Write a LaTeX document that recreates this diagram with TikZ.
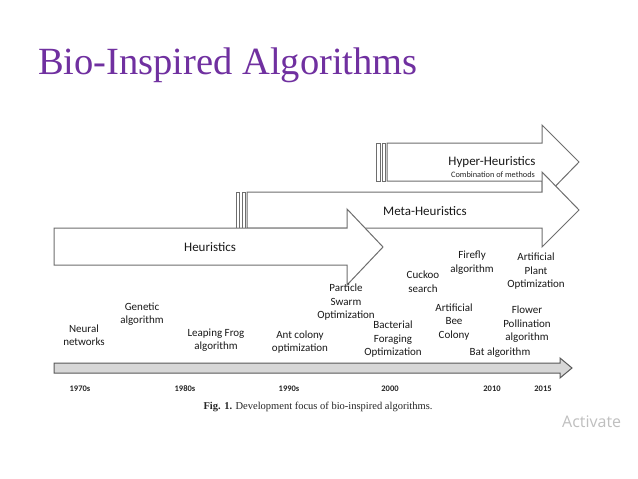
\documentclass[tikz,border=0pt]{standalone}
\usepackage{fontspec}
\setmainfont{Liberation Serif}
\newfontfamily\labelfont{Carlito}
\newfontfamily\markfont{Open Sans}
\definecolor{titlepurple}{RGB}{112,48,160}
\definecolor{edgegray}{RGB}{110,110,110}
\definecolor{bargray}{RGB}{215,215,215}

\begin{document}
\begin{tikzpicture}[x=1pt, y=-1pt,
  arrowbody/.style={draw=edgegray, fill=white, line width=1pt, line join=miter},
  algo/.style={font=\labelfont\fontsize{11}{13.5}\selectfont, align=center, text=black!90, inner sep=0pt},
  year/.style={font=\labelfont\bfseries\fontsize{8.5}{9}\selectfont, text=black!85, inner sep=0pt},
  band/.style={font=\labelfont\fontsize{13}{15}\selectfont, text=black!90, inner sep=0pt}]
\useasboundingbox[fill=white] (0,0) rectangle (638,479);

% title
\node[anchor=base west, inner sep=0pt, text=titlepurple, font=\fontsize{38.5}{44}\selectfont] (title) at (38,74) {Bio-Inspired Algorithms};

% hyper-heuristics band
\draw[arrowbody] (387,143) -- (542,143) -- (542,125) -- (579,162) -- (542,200) -- (542,181) -- (387,181) -- cycle;
\draw[arrowbody] (376,143) rectangle (380,181);
\draw[arrowbody] (382,143) rectangle (385,181);
\node[band] (hyper) at (492,162) {Hyper-Heuristics};
\node[font=\labelfont\fontsize{8.3}{9}\selectfont, text=black!85, inner sep=0pt] (combi) at (493,175) {Combination of methods};

% meta-heuristics band
\draw[arrowbody] (247,192) -- (542,192) -- (542,172) -- (579,210) -- (542,247) -- (542,228) -- (247,228) -- cycle;
\draw[arrowbody] (236,192) rectangle (239,228);
\draw[arrowbody] (242,192) rectangle (245,228);
\node[band] (meta) at (425,211) {Meta-Heuristics};

% heuristics band
\draw[arrowbody] (54,228) -- (347,228) -- (347,209) -- (383,247) -- (347,285) -- (347,265) -- (54,265) -- cycle;
\node[band] (heur) at (210,247) {Heuristics};

% algorithms
\node[algo] (neural) at (84,335) {Neural\\networks};
\node[algo] (genetic) at (142,314) {Genetic\\algorithm};
\node[algo] (frog) at (216,340) {Leaping Frog\\algorithm};
\node[algo] (ant) at (300,342) {Ant colony\\optimization};
\node[algo] (pso) at (346,302.5) {Particle\\Swarm\\Optimization};
\node[algo] (bfo) at (393,339.5) {Bacterial\\Foraging\\Optimization};
\node[algo] (cuckoo) at (423,281.5) {Cuckoo\\search};
\node[algo] (firefly) at (472,262.5) {Firefly\\algorithm};
\node[algo] (plant) at (536,271.5) {Artificial\\Plant\\Optimization};
\node[algo] (bee) at (454,322) {Artificial\\Bee\\Colony};
\node[algo] (flower) at (527,324.5) {Flower\\Pollination\\algorithm};
\node[algo] (bat) at (500,353) {Bat algorithm};

% time line
\draw[draw=black!65, fill=bargray, line width=1pt] (54,363) -- (560,363) -- (560,358) -- (572,368) -- (560,378) -- (560,373) -- (54,373) -- cycle;
\node[year] (y70) at (80,389) {1970s};
\node[year] (y80) at (185,389) {1980s};
\node[year] (y90) at (289,389) {1990s};
\node[year] (y00) at (390,389) {2000};
\node[year] (y10) at (492,389) {2010};
\node[year] (y15) at (543,389) {2015};

% caption
\node[inner sep=0pt, text=black!85, font=\fontsize{10.5}{12}\selectfont] (caption) at (318,407) {\textbf{Fig. 1.} Development focus of bio-inspired algorithms.};
\node[anchor=west, inner sep=0pt, text=gray!50, font=\markfont\fontsize{16}{18}\selectfont] (activate) at (562,422) {Activate};
\end{tikzpicture}
\end{document}
